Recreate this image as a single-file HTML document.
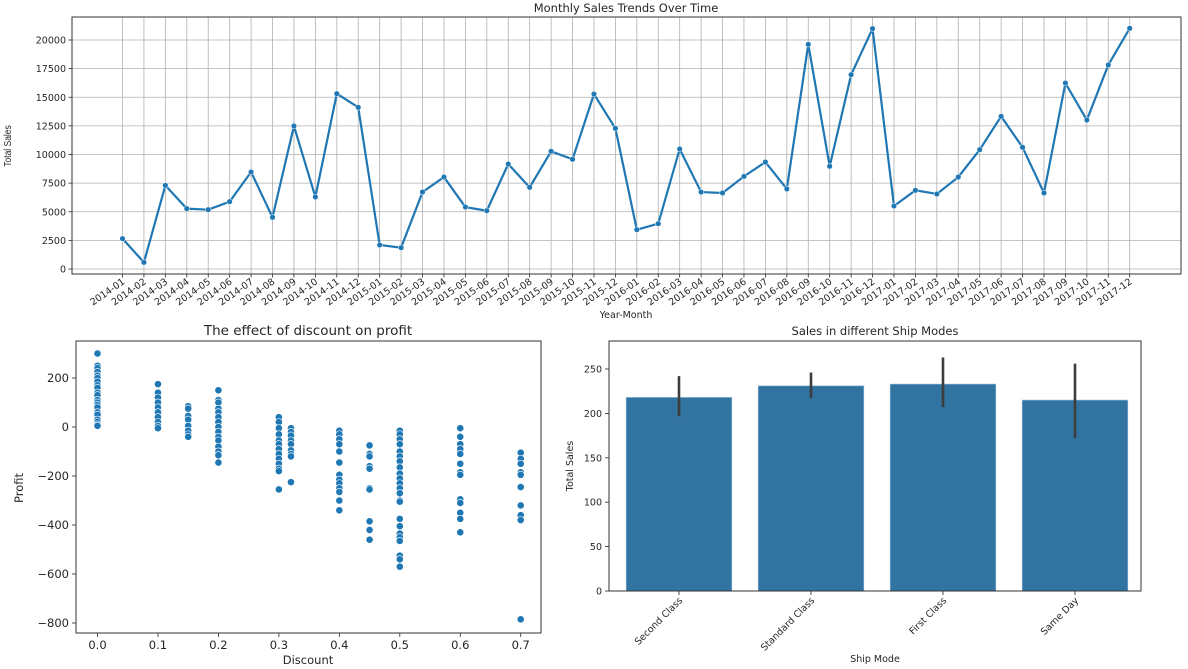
<!DOCTYPE html>
<html><head><meta charset="utf-8"><style>
html,body{margin:0;padding:0;background:#fff;width:1188px;height:669px;overflow:hidden}
svg{display:block;font-family:"DejaVu Sans","Liberation Sans",sans-serif}
</style></head><body>
<svg id="chart" width="1188" height="669" viewBox="0 0 1188 669" xmlns="http://www.w3.org/2000/svg"></svg>
<script>
const months = [];
const years = ['2014','2015','2016','2017'];
for (const y of years) for (let m = 1; m <= 12; m++) months.push(y + '-' + String(m).padStart(2,'0'));
const monthlySales = [2650,580,7300,5270,5180,5880,8470,4510,12490,6290,15310,14120,
 2100,1860,6720,8030,5410,5090,9170,7130,10280,9580,15280,12280,
 3430,3960,10480,6720,6640,8090,9340,6990,19620,8970,16970,20990,
 5500,6870,6550,8030,10420,13330,10630,6640,16240,13010,17820,21020];
const salesTicks = [0,2500,5000,7500,10000,12500,15000,17500,20000];

const discountGroups = [0,0.1,0.15,0.2,0.3,0.32,0.4,0.45,0.5,0.6,0.7];
const profitGroups = [
 [300,250,240,225,210,200,185,170,160,140,130,110,100,90,80,60,50,30,20,10,5],
 [175,140,120,100,80,60,40,20,5,-5],
 [85,75,45,30,5,-15,-30,-40],
 [150,110,100,75,60,40,20,0,-20,-40,-55,-80,-100,-115,-145],
 [40,20,-5,-30,-55,-70,-90,-110,-130,-150,-170,-180,-255],
 [-5,-20,-35,-55,-70,-95,-110,-120,-225],
 [-15,-30,-50,-70,-100,-145,-195,-215,-230,-250,-265,-300,-340],
 [-75,-110,-120,-160,-170,-250,-255,-385,-420,-460],
 [-15,-30,-50,-70,-100,-120,-140,-165,-190,-210,-230,-250,-270,-300,-305,-375,-405,-435,-450,-465,-525,-540,-570],
 [-5,-40,-70,-90,-110,-150,-185,-195,-295,-310,-350,-375,-430],
 [-105,-130,-150,-185,-195,-245,-320,-360,-380,-785]];
const discountTicks = [0,0.1,0.2,0.3,0.4,0.5,0.6,0.7];
const profitTicks = [200,0,-200,-400,-600,-800];

const shipModes = ['Second Class','Standard Class','First Class','Same Day'];
const shipSales = [218,231,233,215];
const shipErrLow = [197,217,207,172];
const shipErrHigh = [242,246,263,256];
const shipTicks = [0,50,100,150,200,250];

const svg = document.getElementById('chart');
const NS = 'http://www.w3.org/2000/svg';
function mk(tag, attrs, parent, text){
  const e = document.createElementNS(NS, tag);
  for (const k in attrs) e.setAttribute(k, attrs[k]);
  if (text !== undefined) e.textContent = text;
  (parent || svg).appendChild(e);
  return e;
}
const blue = '#1f77b4', dark = '#262626';

// ===== Line chart =====
const g1 = mk('g', {});


const L = {l:72, r:1181, t:17, b:274};
const lx = i => 122.5 + i * 21.43;
const ly = v => 269 - v * (229 / 20000);
for (let i = 0; i < months.length; i++) {
  const gl = mk('line', {x1:lx(i), x2:lx(i), y1:L.t, y2:L.b, stroke:'#b0b0b0', 'stroke-width':0.8}, g1);
  
  
  mk('line', {x1:lx(i), x2:lx(i), y1:L.b, y2:L.b+3.5, stroke:dark, 'stroke-width':0.8}, g1);
  const t = mk('text', {x:0, y:0, 'font-size':9.5, fill:dark, 'text-anchor':'end',
    transform:`translate(${lx(i)+3},${L.b+9}) rotate(-35)`}, g1, months[i]);
  
  
}
for (const v of salesTicks) {
  const gl = mk('line', {x1:L.l, x2:L.r, y1:ly(v), y2:ly(v), stroke:'#b0b0b0', 'stroke-width':0.8}, g1);
  
  
  mk('line', {x1:L.l-3.5, x2:L.l, y1:ly(v), y2:ly(v), stroke:dark, 'stroke-width':0.8}, g1);
  const t = mk('text', {x:L.l-6, y:ly(v)+3.5, 'font-size':9.5, fill:dark, 'text-anchor':'end'}, g1, String(v));
  
  
}
const fr1 = mk('rect', {x:L.l, y:L.t, width:L.r-L.l, height:L.b-L.t, fill:'none', stroke:'#333', 'stroke-width':1}, g1);


const line = mk('polyline', {points:monthlySales.map((v,i)=>`${lx(i)},${ly(v)}`).join(' '), fill:'none', stroke:blue, 'stroke-width':2.2}, g1);


monthlySales.forEach((v,i)=>{
  const c = mk('circle', {cx:lx(i), cy:ly(v), r:2.8, fill:blue, stroke:'#fff', 'stroke-width':0.5}, g1);
  
  
});
const t1 = mk('text', {x:626, y:12, 'font-size':11.5, fill:dark, 'text-anchor':'middle'}, g1, 'Monthly Sales Trends Over Time');


const xt1 = mk('text', {x:626, y:318, 'font-size':9.5, fill:dark, 'text-anchor':'middle'}, g1, 'Year-Month');


const yt1 = mk('text', {x:0, y:0, 'font-size':10, fill:dark, 'text-anchor':'middle', 'font-family':'Liberation Sans Narrow, Liberation Sans, sans-serif', transform:'translate(11,146) rotate(-90) scale(0.85,1)'}, g1, 'Total Sales');



// ===== Scatter =====
const g2 = mk('g', {});


const S = {l:76, r:541, t:341, b:633};
const sx = d => 97.5 + d * 604.6;
const sy = p => 427 - p * (49 / 200);
for (const d of discountTicks) {
  mk('line', {x1:sx(d), x2:sx(d), y1:S.b, y2:S.b+4, stroke:dark, 'stroke-width':0.8}, g2);
  const t = mk('text', {x:sx(d), y:S.b+16, 'font-size':11.5, fill:dark, 'text-anchor':'middle'}, g2, d.toFixed(1));
  
  
}
for (const p of profitTicks) {
  mk('line', {x1:S.l-4, x2:S.l, y1:sy(p), y2:sy(p), stroke:dark, 'stroke-width':0.8}, g2);
  const t = mk('text', {x:S.l-7, y:sy(p)+4, 'font-size':11.5, fill:dark, 'text-anchor':'end'}, g2, p < 0 ? '\u2212' + Math.abs(p) : String(p));
  
  
}
discountGroups.forEach((d,gi)=>{
  profitGroups[gi].forEach(p=>{
    const c = mk('circle', {cx:sx(d), cy:sy(p), r:3.6, fill:blue, stroke:'#fff', 'stroke-width':0.6}, g2);
    
    
  });
});
const fr2 = mk('rect', {x:S.l, y:S.t, width:S.r-S.l, height:S.b-S.t, fill:'none', stroke:'#333', 'stroke-width':1}, g2);


const t2 = mk('text', {x:308, y:335, 'font-size':13.5, fill:dark, 'text-anchor':'middle'}, g2, 'The effect of discount on profit');


const xt2 = mk('text', {x:308, y:664, 'font-size':11.5, fill:dark, 'text-anchor':'middle'}, g2, 'Discount');


const yt2 = mk('text', {x:0, y:0, 'font-size':11.5, fill:dark, 'text-anchor':'middle', transform:'translate(23,488) rotate(-90)'}, g2, 'Profit');



// ===== Bar chart =====
const g3 = mk('g', {});


const B = {l:609, r:1141, t:341, b:591};
const bx = i => 679 + i * 132;
const by = v => 591 - v * (222 / 250);
const bw = 105.6;
for (const v of shipTicks) {
  mk('line', {x1:B.l-4, x2:B.l, y1:by(v), y2:by(v), stroke:dark, 'stroke-width':0.8}, g3);
  const t = mk('text', {x:B.l-7, y:by(v)+3.5, 'font-size':9.5, fill:dark, 'text-anchor':'end'}, g3, String(v));
  
  
}
shipModes.forEach((m,i)=>{
  const r = mk('rect', {x:bx(i)-bw/2, y:by(shipSales[i]), width:bw, height:by(0)-by(shipSales[i]), fill:'#3274a1', stroke:'#8fb4d3', 'stroke-width':0.6}, g3);
  
  
  const e = mk('line', {x1:bx(i), x2:bx(i), y1:by(shipErrLow[i]), y2:by(shipErrHigh[i]), stroke:'#3d3d3d', 'stroke-width':2.6}, g3);
  
  
  mk('line', {x1:bx(i), x2:bx(i), y1:B.b, y2:B.b+4, stroke:dark, 'stroke-width':0.8}, g3);
  const t = mk('text', {x:0, y:0, 'font-size':9.5, fill:dark, 'text-anchor':'end', transform:`translate(${bx(i)+4},${B.b+10}) rotate(-45)`}, g3, m);
  
  
});
const fr3 = mk('rect', {x:B.l, y:B.t, width:B.r-B.l, height:B.b-B.t, fill:'none', stroke:'#333', 'stroke-width':1}, g3);


const t3 = mk('text', {x:875, y:335, 'font-size':11.5, fill:dark, 'text-anchor':'middle'}, g3, 'Sales in different Ship Modes');


const xt3 = mk('text', {x:875, y:662, 'font-size':9.5, fill:dark, 'text-anchor':'middle'}, g3, 'Ship Mode');


const yt3 = mk('text', {x:0, y:0, 'font-size':9.5, fill:dark, 'text-anchor':'middle', transform:'translate(573,466) rotate(-90)'}, g3, 'Total Sales');


</script>
</body></html>
